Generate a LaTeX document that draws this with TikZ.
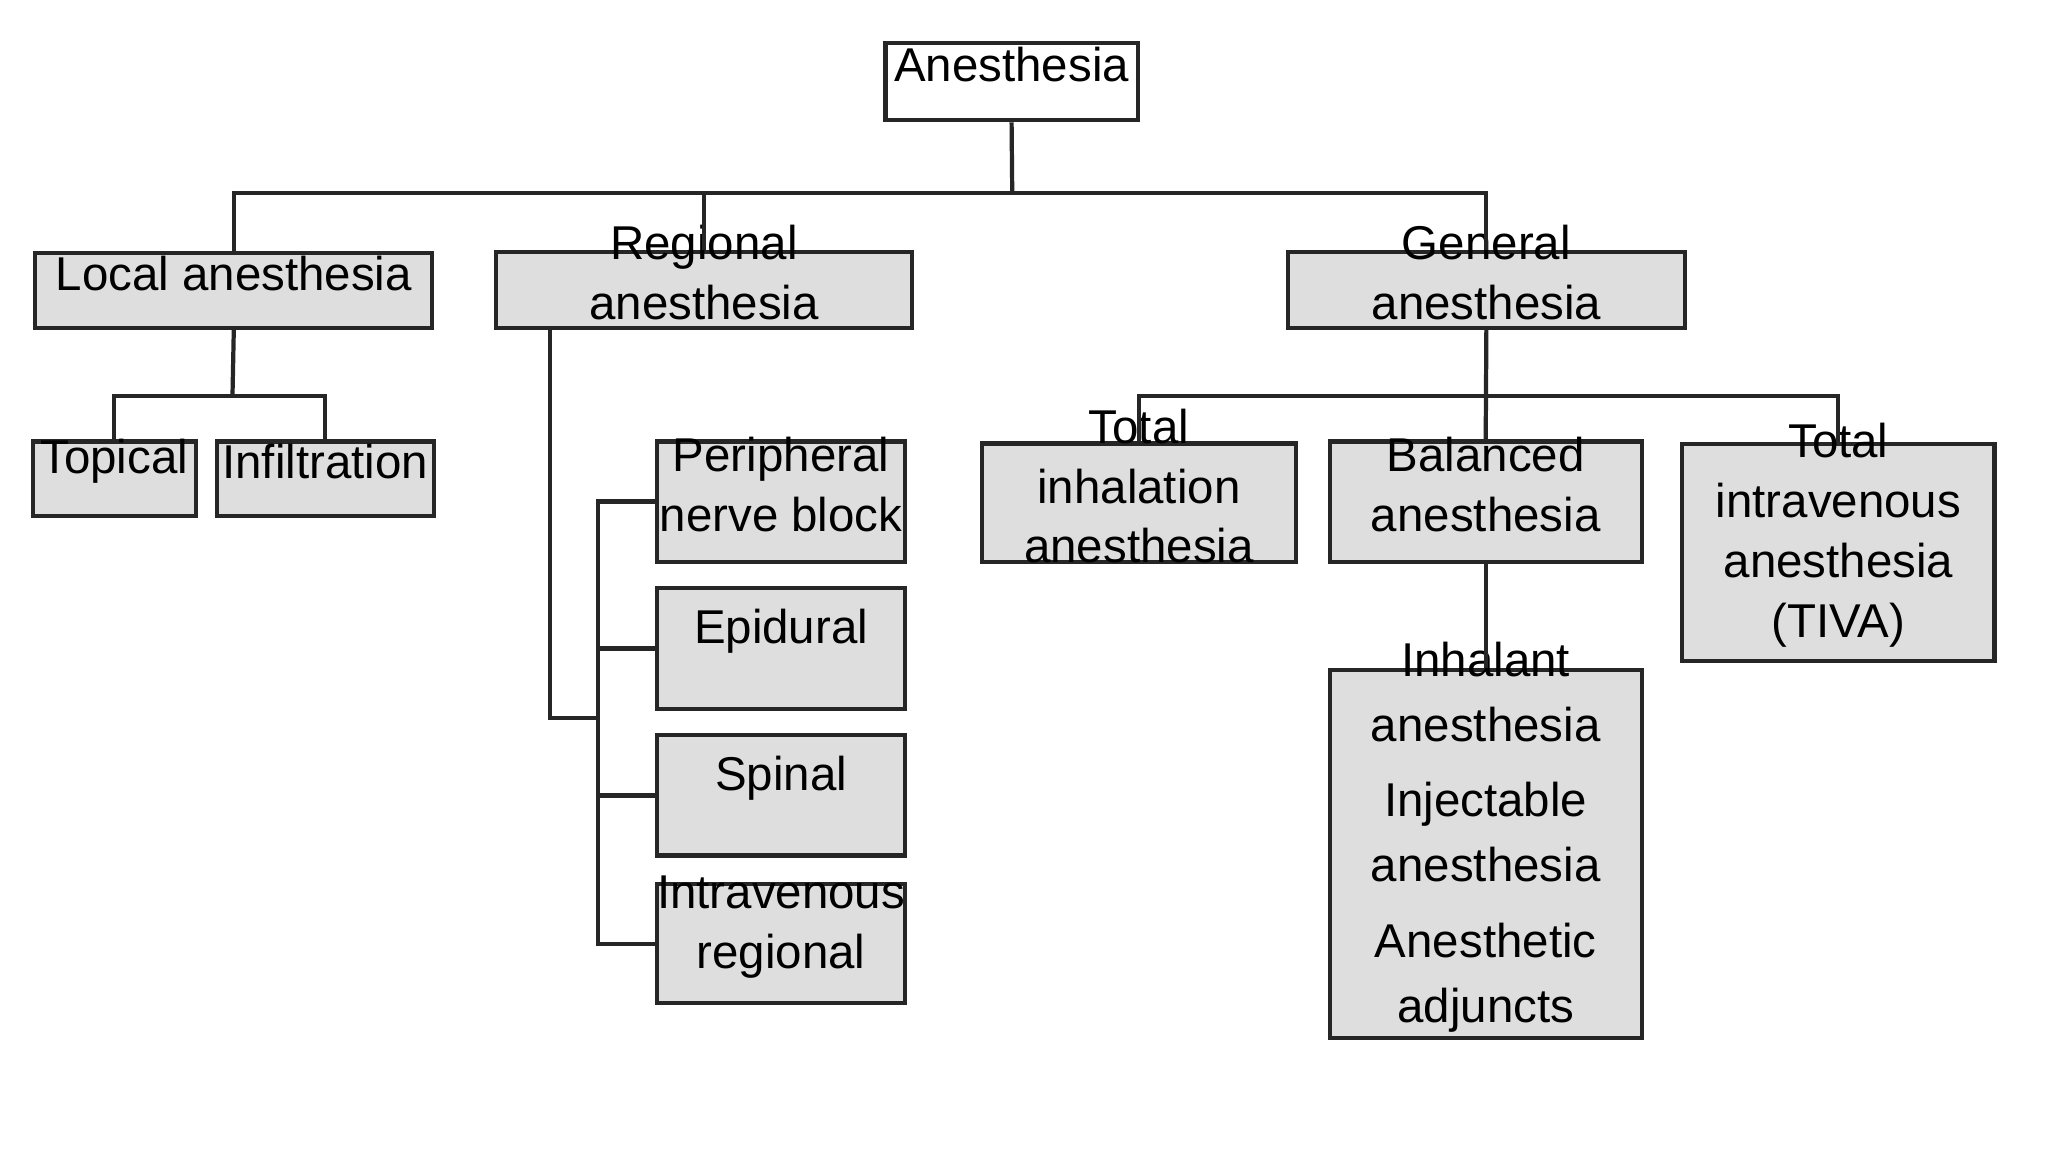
\documentclass[tikz,border=0pt]{standalone}
\usepackage{fontspec}
\setmainfont{Liberation Sans}
\usetikzlibrary{fit}
\begin{document}
\begin{tikzpicture}[x=0.013061cm,y=-0.013061cm,
 box/.style={draw=black!85,fill=black!13,line width=1.2pt,inner sep=0pt,align=center,font=\fontsize{13.5}{17}\selectfont},
 ln/.style={draw=black!85,line width=1.2pt}]
\useasboundingbox[fill=white] (0,0) rectangle (1568,882);
\node[box,fill=white,fit={(678,33)(871,92)}] (an) {Anesthesia};
\node[box,fit={(27,194)(331,251)}] (lo) {Local anesthesia};
\node[box,fit={(380,193)(698,251)}] (re) {Regional anesthesia};
\node[box,fit={(986,193)(1290,251)}] (ge) {General anesthesia};
\node[box,fit={(25,338)(150,395)}] (to) {Topical};
\node[box,fit={(166,338)(332,395)}] (in) {Infiltration};
\node[box,fit={(503,338)(693,430)}] (pe) {Peripheral\\nerve block};
\node[box,fit={(503,450)(693,543)}] (ep) {Epidural};
\node[box,fit={(503,563)(693,655)}] (sp) {Spinal};
\node[box,fit={(503,677)(693,768)}] (iv) {Intravenous\\regional};
\node[box,fit={(752,340)(992,430)}] (ti) {Total inhalation\\anesthesia};
\node[box,fit={(1018,338)(1257,430)}] (ba) {Balanced\\anesthesia};
\node[box,fit={(1288,340)(1527,506)}] (tv) {Total\\intravenous\\anesthesia\\(TIVA)};
\node[box,fit={(1018,513)(1257,795)},font=\fontsize{13.5}{18.5}\selectfont] (ad) {Inhalant\\anesthesia\\[3pt]Injectable\\anesthesia\\[3pt]Anesthetic\\adjuncts};
\coordinate (bus) at (775,148);
\coordinate (lb) at (178,303);
\coordinate (gb) at (1137,303);
\coordinate (rb) at (421,550);
\coordinate (rv) at (458,550);
\draw[ln] (an.south) -- (bus);
\draw[ln] (lo.north) -- (lo.north|-bus) -- (ge.north|-bus) -- (ge.north);
\draw[ln] (re.north) -- (re.north|-bus);
\draw[ln] (lo.south) -- (lb);
\draw[ln] (to.north) -- (to.north|-lb) -- (in.north|-lb) -- (in.north);
\draw[ln] (ge.south) -- (ba.north);
\draw[ln] (ti.north) -- (ti.north|-gb) -- (tv.north|-gb) -- (tv.north);
\draw[ln] (ba.south) -- (ad.north);
\draw[ln] (421,251) -- (rb) -- (rv);
\draw[ln] (pe.west) -- (pe.west-|rv) -- (iv.west-|rv) -- (iv.west);
\draw[ln] (ep.west-|rv) -- (ep.west);
\draw[ln] (sp.west-|rv) -- (sp.west);
\end{tikzpicture}
\end{document}
